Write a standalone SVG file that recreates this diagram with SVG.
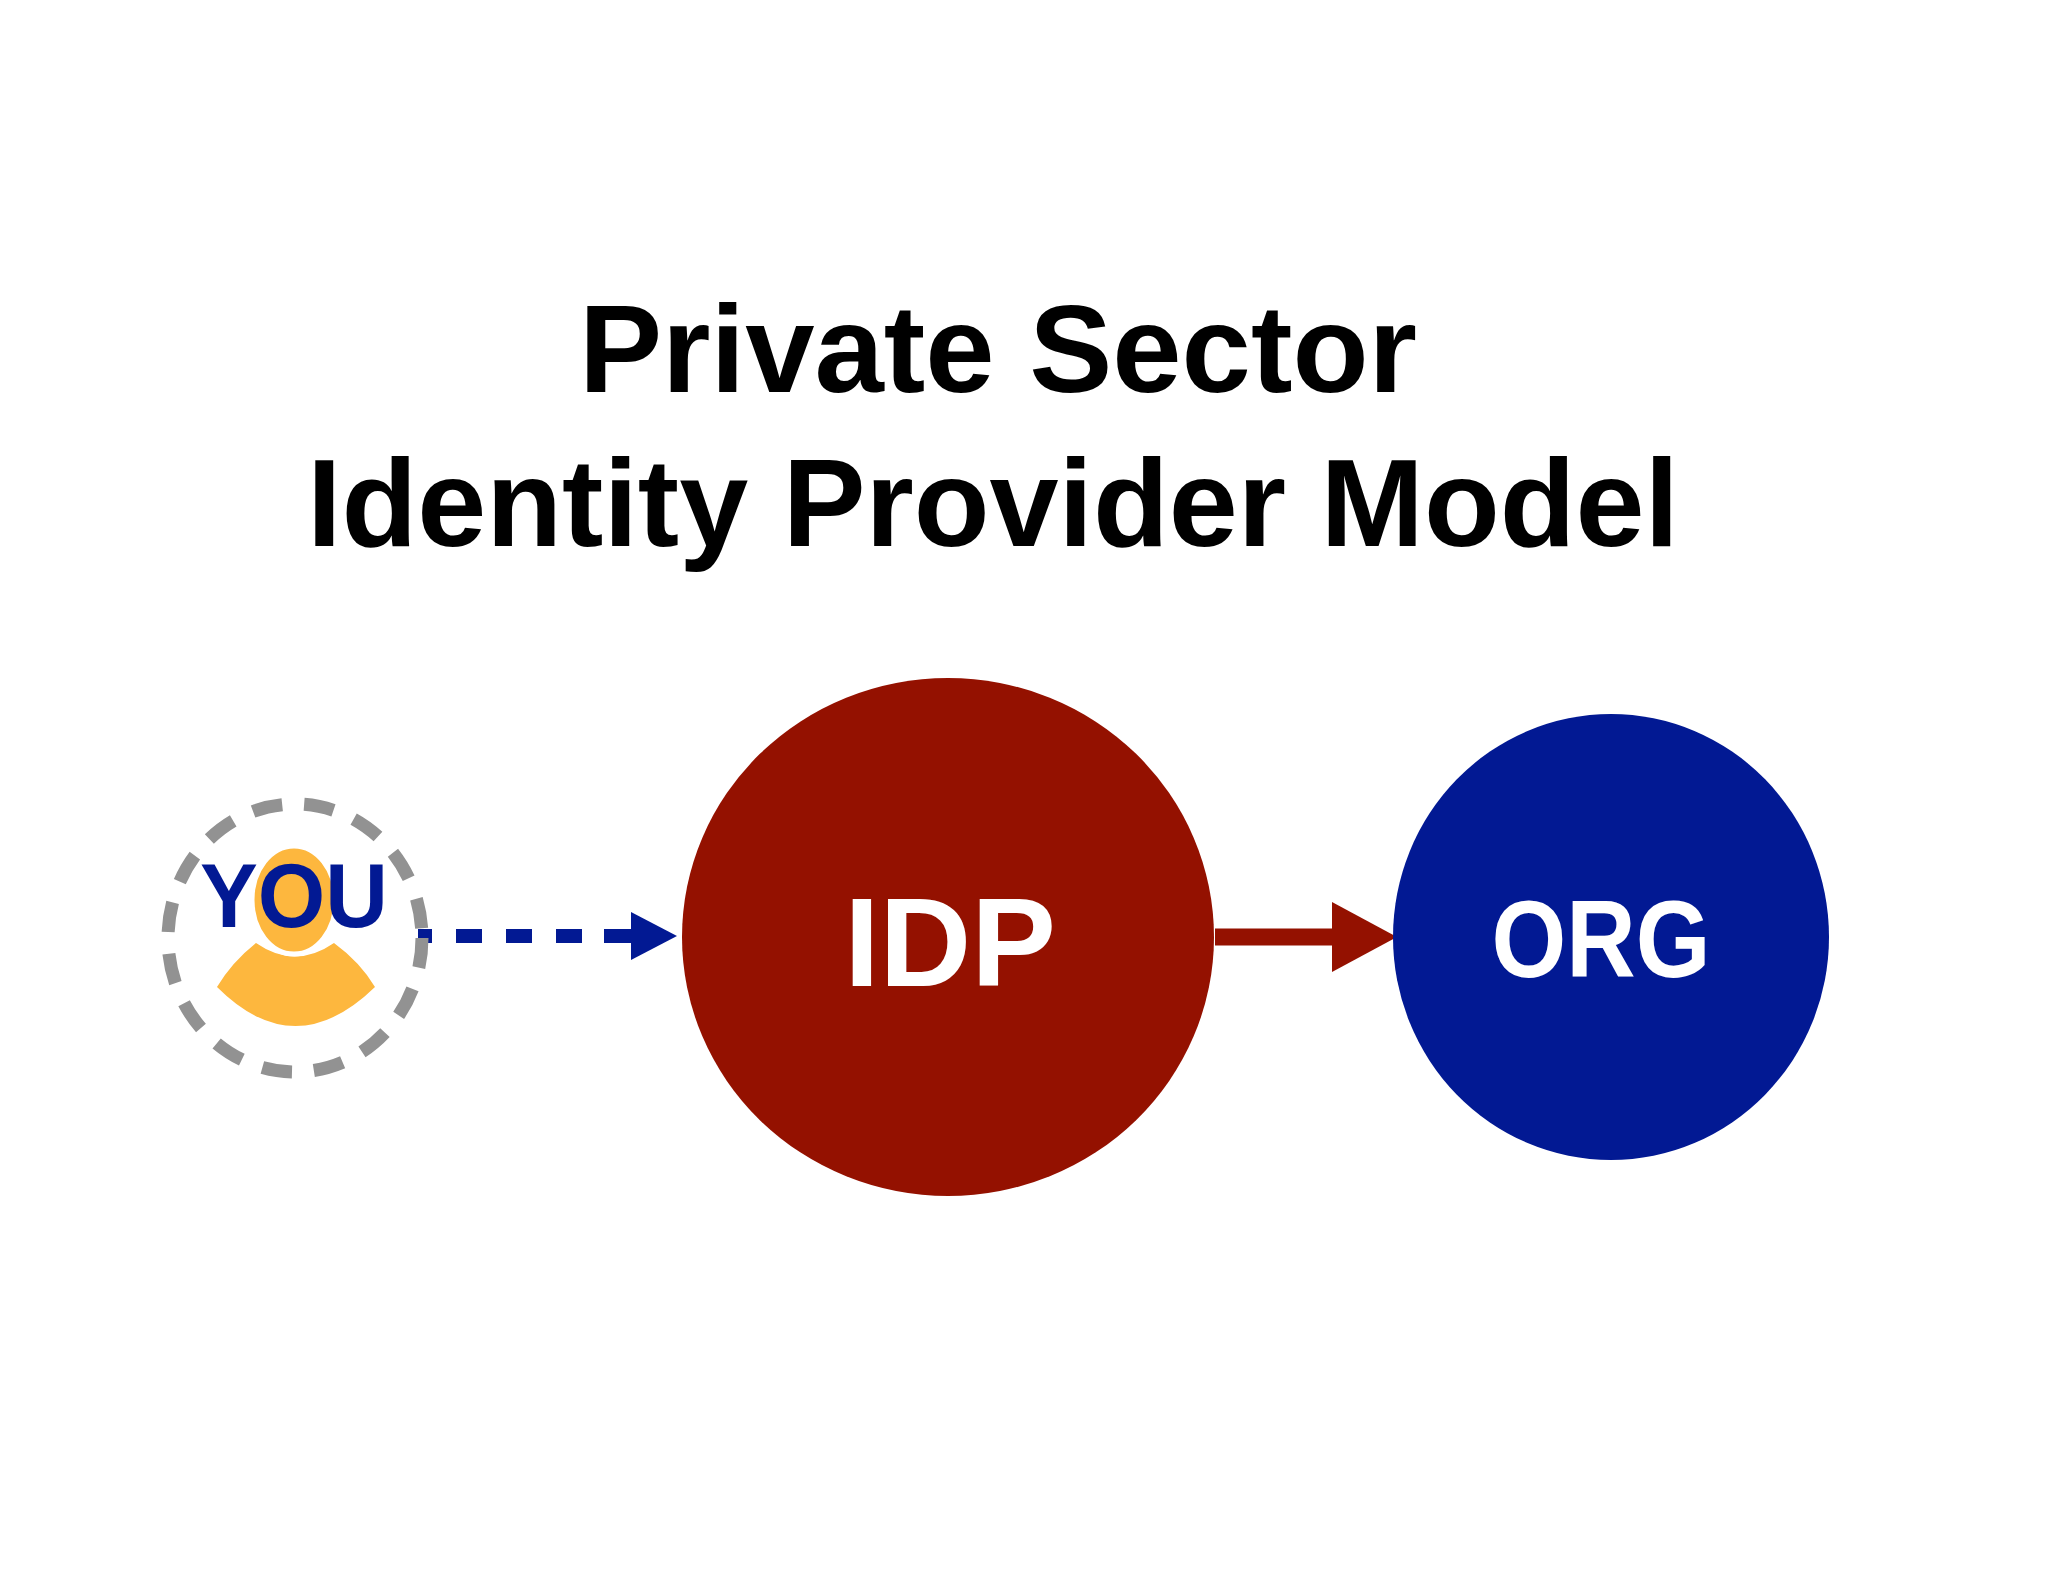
<svg xmlns="http://www.w3.org/2000/svg" width="2048" height="1582" viewBox="0 0 2048 1582">
<style>
.t{font-family:"Liberation Sans",Arial,sans-serif;font-weight:bold;text-anchor:middle}
</style>
<rect width="2048" height="1582" fill="#fff"/>
<g id="title"><text class="t" x="998" y="392" font-size="124" textLength="838" lengthAdjust="spacingAndGlyphs">Private Sector</text>
<text class="t" x="993" y="546" font-size="124" textLength="1372" lengthAdjust="spacingAndGlyphs">Identity Provider Model</text></g>
<g id="connectors">
<line x1="418" y1="936" x2="633" y2="936" stroke="#021993" stroke-width="14" stroke-dasharray="14 24 26 24 26 24 26 22 26 0"/>
<polygon points="631,912 677,936 631,960" fill="#021993"/>
<line x1="1215" y1="937" x2="1334" y2="937" stroke="#941100" stroke-width="17"/>
<polygon points="1332,902 1397,937 1332,972" fill="#941100"/>
</g>
<g id="you">
<ellipse cx="295" cy="938" rx="127" ry="134" fill="none" stroke="#929292" stroke-width="13" stroke-dasharray="30 22"/>
<path d="M256,943 Q295,970 334,943 Q360,962 375,987 Q295,1065 217,987 Q232,962 256,943 Z" fill="#FDB73E"/>
<ellipse cx="294" cy="900" rx="42" ry="54" fill="#FDB73E" stroke="#fff" stroke-width="5"/>
<text class="t" x="294" y="927" font-size="91" fill="#021993" textLength="188" lengthAdjust="spacingAndGlyphs">YOU</text>
</g>
<g id="idp"><ellipse cx="948" cy="937" rx="266" ry="259" fill="#941100"/>
<text class="t" x="950" y="986" font-size="127" fill="#fff">IDP</text></g>
<g id="org"><ellipse cx="1611" cy="937" rx="218" ry="223" fill="#021993"/>
<text class="t" x="1601" y="977" font-size="109" fill="#fff" textLength="219" lengthAdjust="spacingAndGlyphs">ORG</text></g>
</svg>
